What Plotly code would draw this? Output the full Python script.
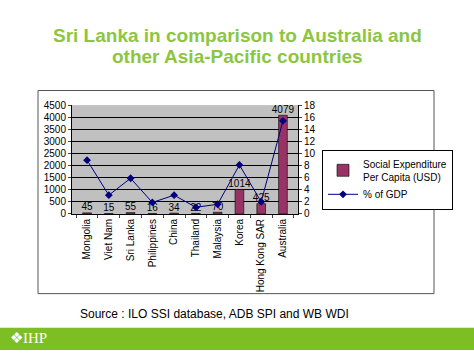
import plotly.graph_objects as go

countries = ["Mongolia", "Viet Nam", "Sri Lanka", "Philippines", "China",
             "Thailand", "Malaysia", "Korea", "Hong Kong SAR", "Australia"]
spend_per_capita = [45, 15, 55, 16, 34, 22, 70, 1014, 425, 4079]
pct_gdp = [8.9, 3.1, 5.9, 1.9, 3.1, 1.1, 1.6, 8.1, 2.0, 15.4]
left_ticks = [0, 500, 1000, 1500, 2000, 2500, 3000, 3500, 4000, 4500]
right_ticks = [0, 2, 4, 6, 8, 10, 12, 14, 16, 18]

W, H = 474, 355
fig = go.Figure()
fig.add_trace(go.Bar(
    x=countries, y=spend_per_capita, name="Social Expenditure<br>Per Capita (USD)",
    marker=dict(color="#993366", line=dict(color="#000000", width=0.6)),
    width=0.4,
))
fig.add_trace(go.Scatter(
    x=countries, y=spend_per_capita, mode="text", showlegend=False,
    text=[str(v) for v in spend_per_capita], textposition="top center",
    cliponaxis=False, hoverinfo="skip",
    textfont=dict(family="Liberation Sans, Arial", size=10, color="#000000"),
))
fig.add_trace(go.Scatter(
    x=countries, y=pct_gdp, name="% of GDP", yaxis="y2", mode="lines+markers",
    line=dict(color="#000080", width=1),
    marker=dict(symbol="diamond", size=6, color="#000080"),
))

font = dict(family="Liberation Sans, Arial", size=10, color="#000000")
title_font = dict(family="Liberation Sans, Arial", size=19, color="#8CC63F")
fig.update_layout(
    width=W, height=H, margin=dict(l=0, r=0, t=0, b=0),
    paper_bgcolor="#FFFFFF", plot_bgcolor="#C0C0C0",
    showlegend=True, bargap=0.6,
    xaxis=dict(domain=[72 / W, 298 / W], tickangle=-90,
               tickfont=dict(family="Liberation Sans, Arial", size=10, color="#000000"),
               showline=True, linecolor="#000000", linewidth=1,
               ticks="outside", ticklen=3, tickson="boundaries",
               showgrid=False, anchor="y"),
    yaxis=dict(range=[0, 4500], tickvals=left_ticks, tickfont=font,
               domain=[1 - 215 / H, 1 - 103 / H],
               showline=True, linecolor="#000000", linewidth=1,
               ticks="outside", ticklen=3, gridcolor="#000000", gridwidth=1,
               zeroline=False),
    yaxis2=dict(range=[0, 18], tickvals=right_ticks, tickfont=font,
                overlaying="y", side="right", anchor="x",
                showline=True, linecolor="#000000", linewidth=1,
                ticks="outside", ticklen=3, showgrid=False, zeroline=False),
    legend=dict(x=322 / W, y=1 - 149 / H, xanchor="left", yanchor="top",
                bgcolor="#FFFFFF", bordercolor="#000000", borderwidth=1,
                font=dict(family="Liberation Sans, Arial", size=10, color="#000000"),
                tracegroupgap=2, itemwidth=30),
    shapes=[
        dict(type="rect", xref="paper", yref="paper",
             x0=38 / W, x1=434 / W, y0=1 - 297 / H, y1=1 - 88 / H,
             line=dict(color="#555555", width=1), layer="below"),
        dict(type="rect", xref="paper", yref="paper",
             x0=0, x1=1, y0=0, y1=1 - 332 / H,
             line=dict(width=0), fillcolor="#7DBE24"),
    ],
    annotations=[
        dict(text="<b>Sri Lanka in comparison to Australia and</b>",
             xref="paper", yref="paper", x=0.5, y=1 - 31 / H, showarrow=False,
             font=title_font, xanchor="center", yanchor="middle"),
        dict(text="<b>other Asia-Pacific countries</b>",
             xref="paper", yref="paper", x=0.5, y=1 - 53 / H, showarrow=False,
             font=title_font, xanchor="center", yanchor="middle"),
        dict(text="Source : ILO SSI database, ADB SPI and WB WDI",
             xref="paper", yref="paper", x=78 / W, y=1 - 318 / H, showarrow=False,
             font=dict(family="Liberation Sans, Arial", size=12, color="#000000"),
             xanchor="left", yanchor="middle"),
        dict(text="❖IHP", xref="paper", yref="paper", x=8 / W, y=1 - 343 / H,
             showarrow=False, xanchor="left", yanchor="middle",
             font=dict(family="Liberation Serif, Times New Roman", size=15, color="#FFFFFF")),
    ],
)
fig.write_html("out.html", config={"displayModeBar": False},
               post_script="document.body.style.margin='0';document.body.style.overflow='hidden';")
